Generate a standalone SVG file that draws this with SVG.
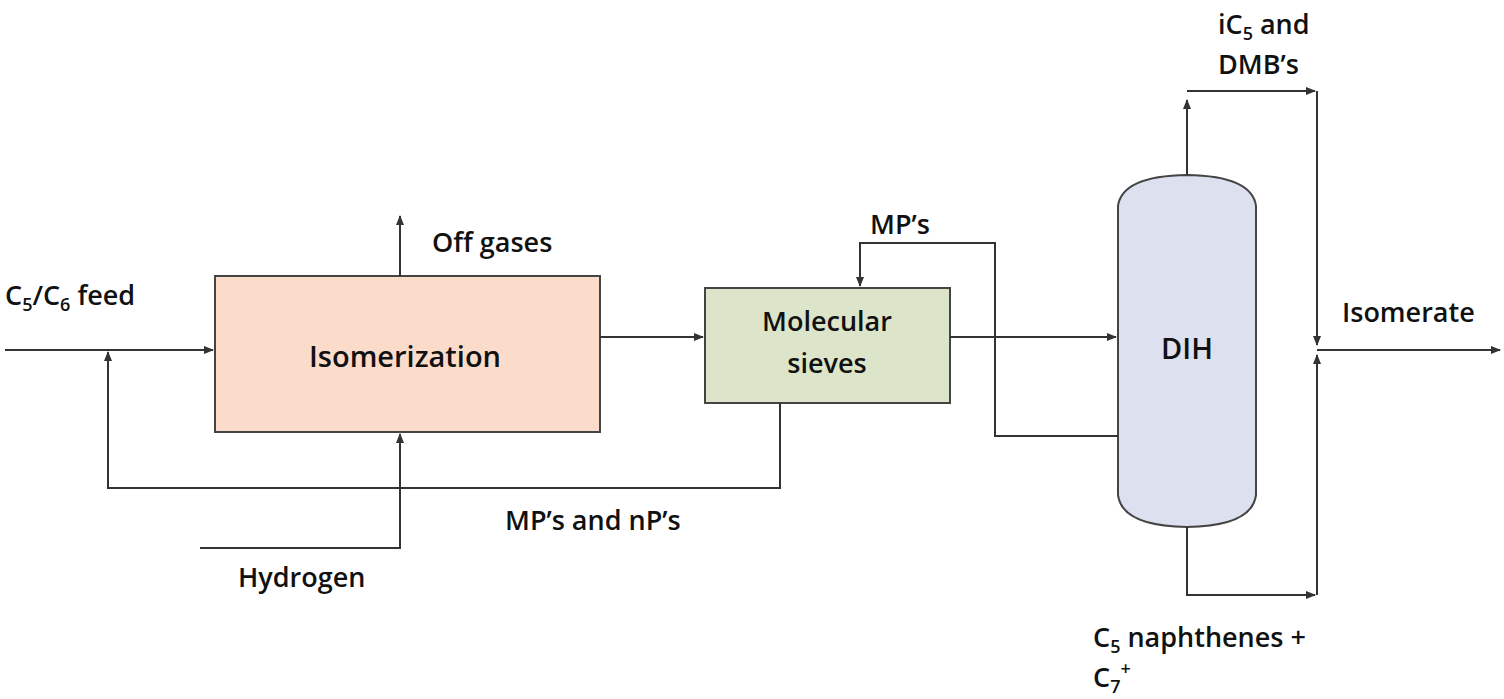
<svg xmlns="http://www.w3.org/2000/svg" width="1504" height="699" viewBox="0 0 1504 699">
<style>
.l{fill:none;stroke:#333;stroke-width:2}
text{font-family:"Open Sans","Liberation Sans",sans-serif;font-weight:600;font-size:27px;fill:#111}
.b{font-size:29px}
.s{font-size:18px}
</style>
<defs><marker id="a" markerWidth="10" markerHeight="8" refX="9" refY="4" orient="auto" markerUnits="userSpaceOnUse"><path d="M0,0L10,4L0,8z" fill="#333"/></marker></defs>
<rect width="1504" height="699" fill="#fff"/>
<g id="iso"><rect x="215" y="276" width="385" height="156" fill="#fbdccb" stroke="#444" stroke-width="2"/><text class="b" x="405" y="367" text-anchor="middle">Isomerization</text></g>
<g id="sieves"><rect x="705" y="288" width="245" height="115" fill="#dce5c9" stroke="#444" stroke-width="2"/><text x="827" y="331" text-anchor="middle">Molecular</text><text x="827" y="373" text-anchor="middle">sieves</text></g>
<g id="dih"><path d="M1118,206Q1122,176 1187,175Q1252,176 1256,206L1256,495Q1252,526 1187,527Q1122,526 1118,495Z" fill="#dde1ef" stroke="#444" stroke-width="2"/><text class="b" x="1187" y="359" text-anchor="middle">DIH</text></g>
<g id="conn">
<path class="l" d="M5,350H213" marker-end="url(#a)"/>
<path class="l" d="M400,276V216" marker-end="url(#a)"/>
<path class="l" d="M600,337H703" marker-end="url(#a)"/>
<path class="l" d="M950,337H1116" marker-end="url(#a)"/>
<path class="l" d="M995,337V243H860V286" marker-end="url(#a)"/>
<path class="l" d="M995,337V436H1118"/>
<path class="l" d="M780,403V488H108V352" marker-end="url(#a)"/>
<path class="l" d="M200,548H400V434" marker-end="url(#a)"/>
<path class="l" d="M1187,175V100" marker-end="url(#a)"/>
<path class="l" d="M1187,91H1315" marker-end="url(#a)"/>
<path class="l" d="M1187,527V595H1315" marker-end="url(#a)"/>
<path class="l" d="M1317,91V345" marker-end="url(#a)"/>
<path class="l" d="M1317,595V355" marker-end="url(#a)"/>
<path class="l" d="M1317,350H1500" marker-end="url(#a)"/>
</g>
<text x="5" y="305">C<tspan class="s" dy="6">5</tspan><tspan dy="-6">/C</tspan><tspan class="s" dy="6">6</tspan><tspan dy="-6"> feed</tspan></text>
<text x="432" y="252">Off gases</text>
<text x="870" y="234">MP’s</text>
<text x="505" y="530">MP’s and nP’s</text>
<text x="238" y="587">Hydrogen</text>
<text x="1218" y="34">iC<tspan class="s" dy="6">5</tspan><tspan dy="-6"> and</tspan></text>
<text x="1218" y="74">DMB’s</text>
<text x="1342" y="322">Isomerate</text>
<text x="1093" y="647">C<tspan class="s" dy="6">5</tspan><tspan dy="-6"> naphthenes +</tspan></text>
<text x="1093" y="687">C<tspan class="s" dy="6">7</tspan><tspan class="s" dy="-18">+</tspan></text>
</svg>
